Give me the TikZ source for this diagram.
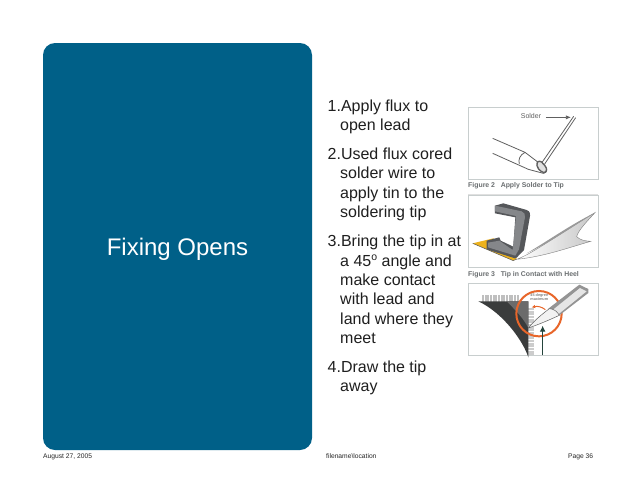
\documentclass[tikz,border=0pt]{standalone}
\usepackage{fontspec}
\setmainfont{Liberation Sans}
\usetikzlibrary{arrows.meta}
\definecolor{panelblue}{HTML}{006088}
\definecolor{figframe}{HTML}{C8CECE}
\definecolor{capgray}{HTML}{6A6E70}
\definecolor{lineink}{HTML}{606060}
\definecolor{leadgray}{HTML}{85878A}
\definecolor{leaddark}{HTML}{55575A}
\definecolor{padyellow}{HTML}{EDB21C}
\definecolor{ringorange}{HTML}{E8662A}
\definecolor{filletdark}{HTML}{3A3C3C}
\definecolor{arrowgreen}{HTML}{24443C}
\tikzset{
  bodytext/.style={anchor=base west,inner sep=0pt,font=\fontsize{16}{16}\selectfont,text=black!88},
  foottext/.style={anchor=base west,inner sep=0pt,font=\fontsize{6.7}{7}\selectfont,text=black!85},
  captext/.style={anchor=base west,inner sep=0pt,font=\fontsize{6.9}{7}\selectfont\bfseries,text=capgray},
  figbox/.style={draw=figframe,line width=0.9pt,fill=white},
  sketch/.style={draw=lineink,line width=0.8pt},
  zoomA/.style={shift={(460,100)},x=0.3333pt,y=-0.3333pt},
  zoomB/.style={shift={(460,190)},x=0.3333pt,y=-0.3333pt},
  zoomC/.style={shift={(460,278)},x=0.3333pt,y=-0.3333pt},
}
\begin{document}
\begin{tikzpicture}[x=1pt,y=-1pt]
\useasboundingbox (0,0) rectangle (638,493);
\fill[white] (0,0) rectangle (638,493);
% panel
\fill[panelblue,rounded corners=12pt] (43,43) rectangle (312,450);
\node[anchor=base,inner sep=0pt,text=white,font=\fontsize{24}{24}\selectfont] (title) at (177.5,255) {Fixing Opens};
% body
\node[bodytext] (l1) at (327.5,111) {1.Apply flux to};
\node[bodytext] (l2) at (340,130.5) {open lead};
\node[bodytext] (l3) at (327.5,159) {2.Used flux cored};
\node[bodytext] (l4) at (340,178.5) {solder wire to};
\node[bodytext] (l5) at (340,198) {apply tin to the};
\node[bodytext] (l6) at (340,217) {soldering tip};
\node[bodytext] (l7) at (327.5,246) {3.Bring the tip in at};
\node[bodytext] (l8) at (340,266) {a 45\raisebox{6pt}{\fontsize{10.5}{10.5}\selectfont o} angle and};
\node[bodytext] (l9) at (340,285) {make contact};
\node[bodytext] (l10) at (340,304.5) {with lead and};
\node[bodytext] (l11) at (340,324) {land where they};
\node[bodytext] (l12) at (340,343) {meet};
\node[bodytext] (l13) at (327.5,372) {4.Draw the tip};
\node[bodytext] (l14) at (340,391.5) {away};
% footer
\node[foottext] (f1) at (43,458.5) {August 27, 2005};
\node[foottext] (f2) at (326,458.5) {filename\textbackslash location};
\node[foottext] (f3) at (568,458.5) {Page 36};
% figure 1
\draw[figbox] (468,107) rectangle (598.5,179.5);
\begin{scope}[zoomA]
\draw[sketch] (98,115) -- (195,157) -- (232,185);
\draw[sketch] (98,160) -- (205,208) -- (250,220) .. controls (262,218) and (262,208) .. (255,200);
\draw[sketch] (195,157) .. controls (180,165) and (174,178) .. (178,192);
\draw[sketch] (347,53) -- (254,192);
\draw[sketch] (341,49) -- (247,186);
\draw[draw=lineink,line width=1.4pt,fill=black!12] (232,186) .. controls (240,180) and (250,188) .. (254,196) .. controls (262,205) and (262,216) .. (252,218) .. controls (240,215) and (226,200) .. (232,186) -- cycle;
\node[anchor=center,inner sep=0pt,font=\fontsize{7}{7}\selectfont,text=lineink] (solderlabel) at (213,47) {Solder};
\coordinate (solderstart) at (258,52);
\coordinate (solderend) at (333,52);
\draw[lineink,line width=0.7pt,-{Latex[length=5pt,width=4pt]}] (solderstart) -- (solderend);
\end{scope}
\node[captext] (c1) at (468,187.5) {Figure 2\ \ \ Apply Solder to Tip};
\draw[black!12,line width=0.5pt] (468,194) -- (598,194);
% figure 2
\draw[figbox] (468,195) rectangle (598.5,267.5);
\begin{scope}[zoomB]
\fill[padyellow] (38,160) -- (100,145) -- (170,205) -- (160,212) -- cycle;
\draw[leaddark,line width=0.5pt] (38,160) -- (160,212) -- (170,207);
% lead: outer dark edge, then lighter face
\fill[leaddark] (105,47) -- (130,40) -- (200,60) .. controls (212,64) and (211,74) .. (209,84) -- (192,180) -- (170,203) -- (165,205) -- (80,178) -- (80,152) -- (118,142) -- (122,152) -- (160,170) -- (166,82) -- (105,70) -- cycle;
\fill[leadgray] (105,47) -- (185,64) .. controls (193,66) and (196,74) .. (195,82) -- (177,178) -- (166,197) -- (84,172) -- (84,158) -- (118,152) -- (158,180) -- (168,78) -- (105,64) -- cycle;
% soldering tip
\shade[left color=white,right color=black!22,draw=black!50,line width=0.4pt] (170,208) .. controls (220,190) and (300,130) .. (405,68) .. controls (385,90) and (355,120) .. (350,140) .. controls (360,150) and (375,153) .. (392,154) .. controls (320,175) and (250,200) .. (170,208) -- cycle;
\fill[black!40] (200,190) .. controls (260,155) and (330,105) .. (405,68) .. controls (330,115) and (265,160) .. (200,190) -- cycle;
\end{scope}
\node[captext] (c2) at (468,276.5) {Figure 3\ \ \ Tip in Contact with Heel};
% figure 3
\draw[figbox] (468,283) rectangle (598.5,355.5);
\begin{scope}[zoomC]
\foreach \tx in {66,74,...,170}{
  \fill[black!25] (\tx,50) rectangle ++(6,21);
}
\foreach \ty in {90,98,...,228}{
  \fill[black!20] (204,\ty) rectangle ++(17,6);
}
\fill[filletdark] (55,70) -- (205,70) -- (205,238) .. controls (190,190) and (130,105) .. (55,70) -- cycle;
\fill[black!58] (140,70) -- (205,70) -- (205,150) .. controls (190,120) and (165,95) .. (140,70) -- cycle;
\draw[ringorange,line width=2pt] (237,107) circle (68);
% iron over the ring
\fill[black!42] (265,92) -- (358,20) -- (385,33) -- (385,45) -- (298,112) -- cycle;
\fill[black!10] (278,96) -- (360,30) -- (380,40) -- (296,108) -- cycle;
\draw[lineink,line width=0.5pt,fill=black!5] (205,150) .. controls (225,125) and (245,110) .. (268,92) .. controls (280,92) and (292,100) .. (298,112) .. controls (270,125) and (235,140) .. (205,150) -- cycle;
\draw[ringorange,line width=1pt,-{Latex[length=3.5pt,width=3.5pt]}] (256,95) .. controls (245,86) and (232,84) .. (215,88);
\node[inner sep=0pt,align=center,font=\fontsize{3.8}{4.4}\selectfont\bfseries,text=black!50] (maxlabel) at (238,57) {45 degree\\maximum};
\coordinate (arrowfoot) at (248,232);
\coordinate (arrowtip) at (248,143);
\draw[arrowgreen,line width=1.4pt,-{Latex[length=6pt,width=6pt]}] (arrowfoot) -- (arrowtip);
\end{scope}
\end{tikzpicture}
\end{document}
